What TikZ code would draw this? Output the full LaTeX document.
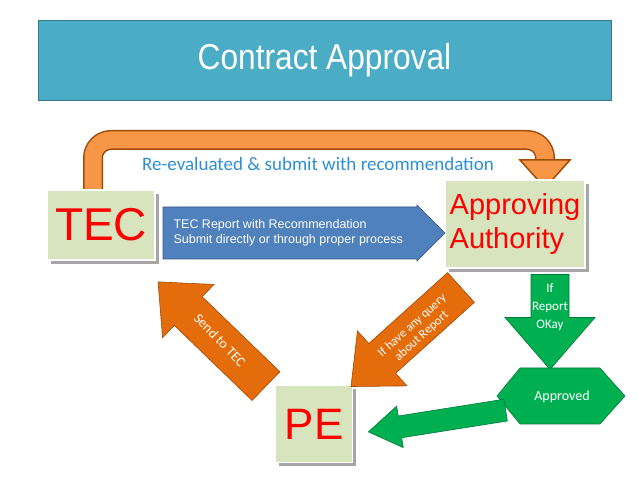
\documentclass[tikz,border=0pt]{standalone}
\usepackage{fontspec}
\setmainfont{Carlito}
\newfontfamily\narrowf[FakeStretch=0.88]{Liberation Sans}
\newfontfamily\arialf{Liberation Sans}
\definecolor{teal}{HTML}{4BACC6}
\definecolor{orng}{HTML}{E46C0A}
\definecolor{lorng}{HTML}{F79646}
\definecolor{lgreen}{HTML}{D7E4BD}
\definecolor{bgreen}{HTML}{00B050}
\definecolor{bblue}{HTML}{4F81BD}
\definecolor{tblue}{HTML}{2E8FD8}
\newcommand\barr[8]{%
  \begin{scope}[shift={(#1)},rotate=#2]
  \draw[#3] (-#4/2,#5) -- (#4/2-#7,#5) -- (#4/2-#7,#6) -- (#4/2,0) -- (#4/2-#7,-#6) -- (#4/2-#7,-#5) -- (-#4/2,-#5) -- cycle;
  \end{scope}
  \coordinate (#8) at (#1);}
\tikzset{
  gbox/.style={fill=lgreen,draw=white,line width=1.5pt,inner sep=0pt},
  shadow/.style={fill=black!35},
  orarrow/.style={fill=orng,draw=orng!70!black,line width=0.6pt},
  grarrow/.style={fill=bgreen,draw=bgreen!70!black,line width=0.6pt},
}
\begin{document}
\begin{tikzpicture}[x=1pt,y=-1pt]
\useasboundingbox[fill=white] (0,0) rectangle (638,478);
% title
\node[fill=teal,draw=teal!70!black,minimum width=573pt,minimum height=80pt,text=white,font=\narrowf\fontsize{36}{40}\selectfont] (title) at (324.5,60) {Contract Approval};
% U arrow
\draw[line width=20pt,draw=orng!70!black,line join=round,rounded corners=18pt] (93,195) -- (93,140) -- (545,140) -- (545,160);
\draw[line width=17pt,draw=lorng,rounded corners=18pt] (93,196) -- (93,140) -- (545,140) -- (545,161);
\draw[fill=lorng,draw=orng!70!black,line width=1.5pt] (520,160) -- (570,160) -- (545,188) -- cycle;
\node[text=tblue,font=\fontsize{19}{22}\selectfont] (reeval) at (318,164) {Re-evaluated \& submit with recommendation};
% shadows
\fill[shadow] (51,194) rectangle (159,264);
\fill[shadow] (449,184) rectangle (589,272);
\fill[shadow] (279,389) rectangle (356,466);
% TEC
\node[gbox,minimum width=108pt,minimum height=70pt,text=red,font=\arialf\fontsize{46}{50}\selectfont] (tec) at (101,225) {TEC};
% AA
\node[gbox,minimum width=140pt,minimum height=88pt,text=red,font=\arialf\fontsize{29}{34}\selectfont,align=left] (aa) at (515,224) {Approving\\ Authority};
% PE
\node[gbox,minimum width=77pt,minimum height=77pt,text=red,font=\arialf\fontsize{44}{48}\selectfont] (pe) at (314,424) {PE};
% blue arrow
\barr{304,233}{0}{fill=bblue,draw=bblue!70!black,line width=0.6pt}{282}{26}{28}{28}{blue}
\node[text=white,font=\arialf\fontsize{12.5}{15}\selectfont,align=left,anchor=west] (bluetxt) at (170,233) {TEC Report with Recommendation\\Submit directly or through proper process};
% down arrow
\barr{550,322}{270}{grarrow}{95}{19}{45}{52}{down}
\node[text=white,font=\fontsize{13}{18}\selectfont,align=center] (iftxt) at (550,307) {If\\Report\\OKay};
% hexagon
\draw[grarrow] (520,368) -- (600,368) -- (625,396) -- (600,424) -- (520,424) -- (497,396) -- cycle;
\node[text=white,font=\fontsize{14}{17}\selectfont] (appr) at (562,397) {Approved};
% green arrow to PE
\barr{437,421}{189}{grarrow}{139}{11}{21}{32}{garr}
% orange arrows
\barr{212,334}{136}{orarrow}{150}{20}{37}{42}{send}
\node[text=white,rotate=-46,font=\fontsize{14}{17}\selectfont] (sendtxt) at (220,340) {Send to TEC};
\barr{406,337}{222}{orarrow}{148}{20}{37}{42}{query}
\node[text=white,rotate=42,font=\fontsize{12.5}{14}\selectfont,align=center] (qtxt) at (417,331) {If have any query\\about Report};
\end{tikzpicture}
\end{document}
